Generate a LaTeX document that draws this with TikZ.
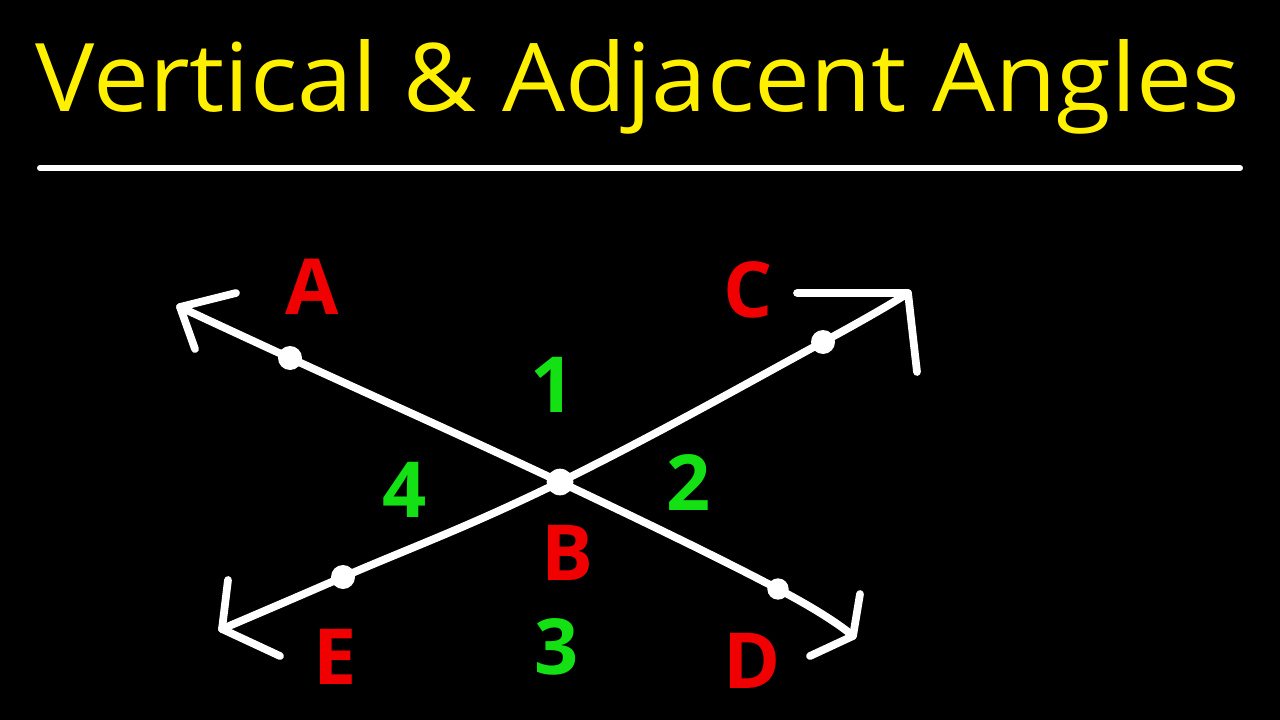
\documentclass[tikz,border=0pt]{standalone}
\usepackage{fontspec}
\setmainfont{Open Sans}
\definecolor{ttlyellow}{RGB}{255,240,0}
\definecolor{lblred}{RGB}{240,0,0}
\definecolor{lblgreen}{RGB}{20,225,20}
\begin{document}
\begin{tikzpicture}[x=0.75pt,y=-0.75pt,
  ray/.style={draw=white,line width=5.8pt,line cap=round,line join=round},
  tipline/.style={draw=white,line width=5.8pt,line cap=round,line join=round},
  dotpt/.style={fill=white},
  ptlabel/.style={text=lblred,font=\fontsize{58}{60}\selectfont\bfseries,inner sep=0pt},
  anglabel/.style={text=lblgreen,font=\fontsize{58}{60}\selectfont\bfseries,inner sep=0pt}]
\fill[black] (0,0) rectangle (1280,720);
\useasboundingbox (0,0) rectangle (1280,720);
% title
\node[text=ttlyellow,inner sep=0pt,anchor=base] (title) at (638,112)
  {\resizebox{903pt}{54pt}{Vertical \& Adjacent Angles}};
\coordinate (ul) at (40,168);
\coordinate (ur) at (1240,168);
\draw[white,line width=4.5pt,line cap=round] (ul) -- (ur);
% key points
\coordinate (tA) at (180,307);
\coordinate (pA) at (290,358);
\coordinate (B) at (560,482);
\coordinate (pD) at (778,589);
\coordinate (tD) at (853,636);
\coordinate (tE) at (222,629);
\coordinate (pE) at (343,577);
\coordinate (pC) at (823,342);
\coordinate (tC) at (908,293);
% lines
\draw[ray] plot[smooth,tension=0.7] coordinates {(tA) (pA) (B) (pD) (tD)};
\draw[ray] plot[smooth,tension=0.7] coordinates {(tE) (pE) (B) (pC) (tC)};
% arrow heads
\coordinate (aA1) at (236,293); \coordinate (aA2) at (195,349);
\coordinate (aC1) at (797,293); \coordinate (aC2) at (917,372);
\coordinate (aE1) at (228,580); \coordinate (aE2) at (280,656);
\coordinate (aD1) at (860,594); \coordinate (aD2) at (810,656);
\draw[tipline] (aA1) -- (tA) -- (aA2);
\draw[tipline] (aC1) -- (tC) -- (aC2);
\draw[tipline] (aE1) -- (tE) -- (aE2);
\draw[tipline] (aD1) -- (tD) -- (aD2);
% dots
\fill[dotpt] (pA) circle (9pt);
\fill[dotpt] (pC) circle (9pt);
\fill[dotpt] (pE) circle (9pt);
\fill[dotpt] (pD) circle (8pt);
\fill[dotpt] (B) circle (10pt);
% point labels
\node[ptlabel] (lA) at (312,287) {A};
\node[ptlabel] (lC) at (748,290) {C};
\node[ptlabel] (lE) at (335,657) {E};
\node[ptlabel] (lD) at (752,661) {D};
\node[ptlabel] (lB) at (567,553) {B};
% angle labels
\node[anglabel] (n1) at (553,385) {1};
\node[anglabel] (n2) at (689,482) {2};
\node[anglabel] (n3) at (557,647) {3};
\node[anglabel] (n4) at (405,490) {4};
\end{tikzpicture}
\end{document}
